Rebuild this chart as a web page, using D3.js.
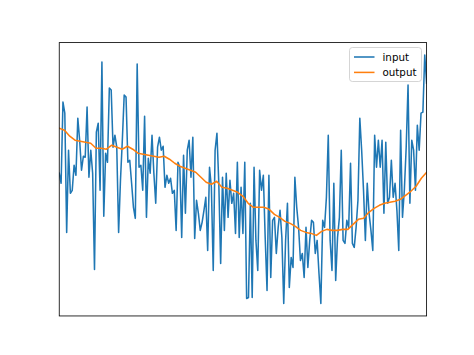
<!DOCTYPE html>
<html>
<head>
<meta charset="utf-8">
<script src="https://cdn.jsdelivr.net/npm/d3@7"></script>
<style>
  body { margin: 0; background: #fff; }
  svg { display: block; }
</style>
</head>
<body>
<svg id="chart" width="474" height="355"></svg>
<script>
// input signal (arbitrary units, no ticks shown)
const inputVals = [
  2.7, 1.7, 9.8, 8.7, -3.2, 5.0, 0.7, 1.0, 3.5, 2.5, 8.2, 6.0, 3.0, 4.4, 4.3, 9.3, 2.3, 5.0, 2.7, -6.9,
  6.8, 7.7, 1.0, 13.8, -1.6, 4.7, 3.8, 11.2, 11.0, 5.3, 6.5, 5.3, -3.2,
  2.0, 6.0, 10.5, 10.3, 3.8, 4.0, 1.7, -0.7, -1.8, 13.6, 3.3, 3.5, 1.0, 8.4, -1.7, 4.2, 2.7, 6.5,
  2.7, -0.3, 5.3, 6.3, 5.0, 5.4, 1.3, 2.5, 1.7, 2.2, 0.7, 1.0, -3.0, 3.8, 3.3, -3.7,
  4.5, -1.3, 5.0, 6.0, 2.3, 6.3, -3.8, 0.0, -1.3, -3.0, -2.2, -1.0, 0.3, -5.0, 3.3, 1.3, -7.0, 5.0,
  6.7, 1.7, -6.3, 2.3, -3.0, 2.7, -1.7, 2.0, -0.3, 0.7, -3.3, 3.8, -3.7,
  1.3, -3.3, 3.8, -9.8, -9.7, -0.3, -9.7, 3.3, -4.0, -7.0, 3.0, 1.0, 2.5, -3.7, -9.0, 2.5, -7.7,
  -2.0, -1.7, -5.3, -2.7, -1.0, -3.7, -10.3, -4.0, -0.3, -8.7, -5.7, -6.7, 2.3, -0.7, -2.7, -6.0, -5.3,
  -7.7, -2.7, -6.7, -4.0, -2.0, -2.2, -5.3, -4.0, -7.3, -10.3, -2.0, -2.7, 0.3, 6.5, -4.0, -7.0, 1.7,
  -8.0, -3.7, -1.7, 5.0, -4.0, -4.3, -2.0, -2.7, 3.7, -4.3, -4.7, -2.7, 0.0, 8.2, 5.0, 1.0,
  -4.0, 1.7, -1.3, -3.0, -5.0, 6.5, 3.3, 6.0, 3.3, 6.0, -1.3, 5.8, -0.3, 0.3, 4.0, 0.3, 1.7,
  -1.0, -5.0, 7.0, -1.7, 1.0, 5.3, 11.5, -0.3, 6.0, 5.0, 1.0, 7.5, 5.0, 8.7, 8.8, 14.5, 11.7
];

// smoothed output, sampled more coarsely over the same span
const outputVals = [
  7.2, 7.0, 6.4, 6.0, 5.9, 5.8, 5.7, 5.2, 5.2, 5.1,
  5.5, 5.3, 5.1, 5.4, 5.1, 4.7, 4.6, 4.5, 4.4, 4.3,
  4.4, 4.1, 3.7, 3.4, 3.2, 3.0, 2.8, 2.3, 1.8, 1.6,
  1.9, 1.3, 1.2, 1.0, 0.8, 0.4, -0.3, -0.7, -0.7, -0.7,
  -0.9, -1.4, -1.7, -2.1, -2.3, -2.6, -3.0, -3.2, -3.3, -3.5,
  -3.1, -2.9, -3.0, -3.0, -2.9, -2.9, -2.4, -1.9, -1.8, -1.2,
  -0.8, -0.5, -0.3, -0.2, -0.1, 0.1, 0.5, 0.9, 1.4, 2.2,
  2.8
];

const seriesNames = ["input", "output"];
const seriesColors = ["#1f77b4", "#ff7f0e"];

function renderChart() {
  const svg = d3.select("#chart");
  const width = +svg.attr("width");
  const height = +svg.attr("height");
  const margin = {left: 59.25, right: width - 426.6, top: 42.6, bottom: height - 315.95};

  const nIn = inputVals.length;
  const nOut = outputVals.length;

  const x = d3.scaleLinear()
    .domain([0, nIn - 1])
    .range([margin.left, width - margin.right]);

  // matplotlib-style 5% padding on y
  const all = inputVals.concat(outputVals);
  const lo = d3.min(all), hi = d3.max(all);
  const pad = (hi - lo) * 0.05;
  const y = d3.scaleLinear()
    .domain([lo - pad, hi + pad])
    .range([height - margin.bottom, margin.top]);

  const inputData = inputVals.map((v, i) => ({x: i, y: v}));
  const outputData = outputVals.map((v, i) => ({x: i * (nIn - 1) / (nOut - 1), y: v}));

  const line = d3.line().x(d => x(d.x)).y(d => y(d.y));

  svg.append("defs").append("clipPath").attr("id", "clip")
    .append("rect")
    .attr("x", margin.left).attr("y", margin.top)
    .attr("width", width - margin.left - margin.right)
    .attr("height", height - margin.top - margin.bottom);

  const plot = svg.append("g").attr("clip-path", "url(#clip)");

  [inputData, outputData].forEach((data, k) => {
    plot.append("path")
      .datum(data)
      .attr("fill", "none")
      .attr("stroke", seriesColors[k])
      .attr("stroke-width", 1.54)
      .attr("stroke-linejoin", "round")
      .attr("stroke-linecap", "square")
      .attr("d", line);
  });

  // frame, no ticks
  svg.append("rect")
    .attr("x", margin.left).attr("y", margin.top)
    .attr("width", width - margin.left - margin.right)
    .attr("height", height - margin.top - margin.bottom)
    .attr("fill", "none")
    .attr("stroke", "#000")
    .attr("stroke-width", 0.82);

  // legend, upper right
  const lg = svg.append("g");
  lg.append("rect")
    .attr("x", 349.5).attr("y", 47.5)
    .attr("width", 72).attr("height", 34)
    .attr("rx", 2.9)
    .attr("fill", "#fff").attr("fill-opacity", 0.8)
    .attr("stroke", "#cccccc").attr("stroke-width", 0.82);

  seriesNames.forEach((name, k) => {
    const cy = 57 + k * 15.4;
    lg.append("line")
      .attr("x1", 354).attr("x2", 374.5)
      .attr("y1", cy).attr("y2", cy)
      .attr("stroke", seriesColors[k])
      .attr("stroke-width", 1.54);
    lg.append("text")
      .attr("x", 382.5).attr("y", cy + 3.7)
      .attr("font-family", "DejaVu Sans")
      .attr("font-size", 10.3)
      .attr("fill", "#000")
      .text(name);
  });
}

renderChart();
</script>
</body>
</html>
